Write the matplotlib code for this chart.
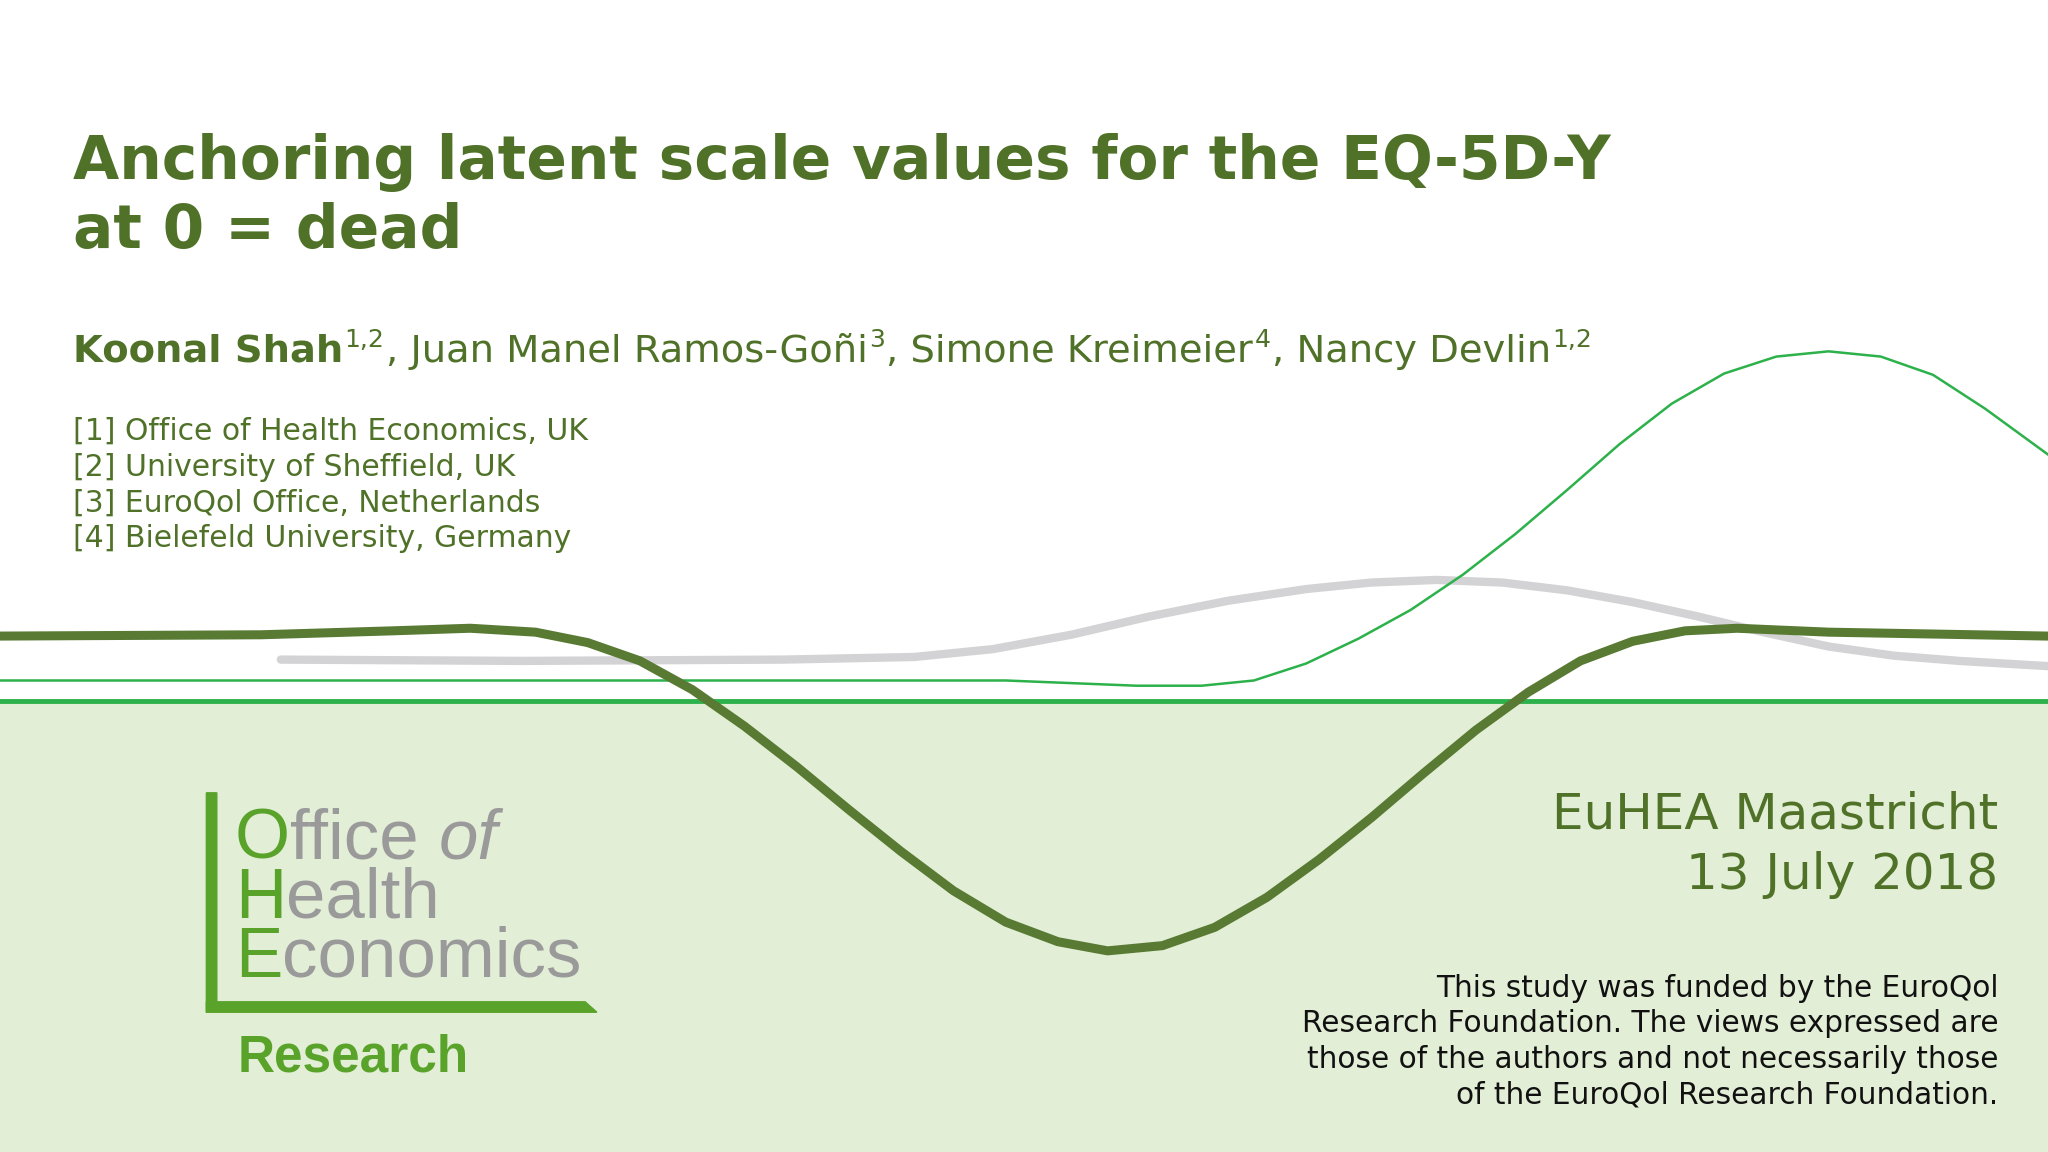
import matplotlib
matplotlib.use("Agg")
import matplotlib.pyplot as plt

W, H = 1568, 882
DARK = "#587a33"
TXT = "#4f7228"
BRIGHT = "#2db14a"
FILL = "#e2eed6"

# decorative curves (slide coordinates)
dark_x = [0, 200, 300, 360, 410, 450, 490, 530, 570, 610, 650, 690, 730, 770, 810, 848, 890, 930, 970, 1010, 1050, 1090, 1130, 1170, 1210, 1250, 1290, 1330, 1400, 1568]
dark_y = [487, 486, 483, 481, 484, 492, 506, 528, 556, 587, 620, 652, 682, 706, 721, 728, 724, 710, 687, 658, 626, 592, 559, 530, 506, 491, 483, 481, 484, 487]
grey_x = [215, 400, 600, 700, 760, 820, 880, 940, 1000, 1050, 1100, 1150, 1200, 1250, 1300, 1350, 1400, 1450, 1500, 1568]
grey_y = [505, 506, 505, 503, 497, 486, 472, 460, 451, 446, 444, 446, 452, 461, 472, 484, 495, 502, 506, 510]
thin_x = [0, 400, 770, 820, 870, 920, 960, 1000, 1040, 1080, 1120, 1160, 1200, 1240, 1280, 1320, 1360, 1400, 1440, 1480, 1520, 1568]
thin_y = [521, 521, 521, 523, 525, 525, 521, 508, 489, 467, 440, 409, 375, 340, 309, 286, 273, 269, 273, 287, 313, 348]

title_lines = ["Anchoring latent scale values for the EQ-5D-Y", "at 0 = dead"]
authors = [("Koonal Shah", "bold", "1,2"), (", Juan Manel Ramos-Goñi", "normal", "3"),
           (", Simone Kreimeier", "normal", "4"), (", Nancy Devlin", "normal", "1,2")]
affiliations = ["[1] Office of Health Economics, UK", "[2] University of Sheffield, UK",
                "[3] EuroQol Office, Netherlands", "[4] Bielefeld University, Germany"]
event = ["EuHEA Maastricht", "13 July 2018"]
funding = ["This study was funded by the EuroQol", "Research Foundation. The views expressed are",
           "those of the authors and not necessarily those", "of the EuroQol Research Foundation."]

fig = plt.figure(figsize=(20.48, 11.52), dpi=100)
ax = fig.add_axes([0, 0, 1, 1])
ax.set_xlim(0, W); ax.set_ylim(H, 0); ax.axis("off")
ax.axhspan(537, H, color=FILL, zorder=0)
ax.plot([0, W], [537, 537], color=BRIGHT, lw=3.5, zorder=2)
ax.plot(grey_x, grey_y, color="#d3d3d5", lw=6, solid_capstyle="round", solid_joinstyle="round", zorder=1)
ax.plot(thin_x, thin_y, color=BRIGHT, lw=1.8, solid_joinstyle="round", zorder=2)
ax.plot(dark_x, dark_y, color=DARK, lw=6.5, solid_joinstyle="round", zorder=3)

F = "DejaVu Sans"
for i, t in enumerate(title_lines):
    ax.text(56, 137 + 53 * i, t, fontsize=43, fontweight="bold", color=TXT, family=F, va="baseline")

fig.canvas.draw()
r = fig.canvas.get_renderer()
sx = W / 2048
x = 56
for name, wt, sup in authors:
    t = ax.text(x, 277, name, fontsize=27.7, fontweight=wt, color=TXT, family=F, va="baseline")
    x += t.get_window_extent(r).width * sx
    s = ax.text(x + 1, 266, sup, fontsize=18, color=TXT, family=F, va="baseline")
    x += s.get_window_extent(r).width * sx + 2

for i, t in enumerate(affiliations):
    ax.text(56, 337 + 27.3 * i, t, fontsize=21.5, color=TXT, family=F, va="baseline")

ax.text(1530, 634, event[0], fontsize=36, color=TXT, family=F, ha="right", va="baseline")
ax.text(1530, 681, event[1], fontsize=36, color=TXT, family=F, ha="right", va="baseline")
for i, t in enumerate(funding):
    ax.text(1530, 763 + 27.3 * i, t, fontsize=21.3, color="#111111", family=F, ha="right", va="baseline")

# logo
LG = "#5aa32b"
ax.fill([158, 166, 166, 158], [607, 607, 770, 775], color=LG, zorder=4)
ax.fill([158, 448, 457, 158], [767, 767, 775, 775], color=LG, zorder=4)
lf = "Liberation Sans"
for i, (a, b) in enumerate([("O", "ffice "), ("H", "ealth"), ("E", "conomics")]):
    y = 657 + 45.5 * i
    t = ax.text(180, y, a, fontsize=51, color=LG, family=lf, va="baseline")
    w = t.get_window_extent(r).width * sx
    t2 = ax.text(180 + w, y, b, fontsize=51, color="#9a9a9a", family=lf, va="baseline")
    if i == 0:
        w2 = t2.get_window_extent(r).width * sx
        ax.text(180 + w + w2, y, "of", fontsize=51, color="#9a9a9a", family=lf, style="italic", va="baseline")
ax.text(182, 820, "Research", fontsize=37, color=LG, family=lf, fontweight="bold", va="baseline")

fig.savefig("out.png", dpi=100, facecolor="white")
